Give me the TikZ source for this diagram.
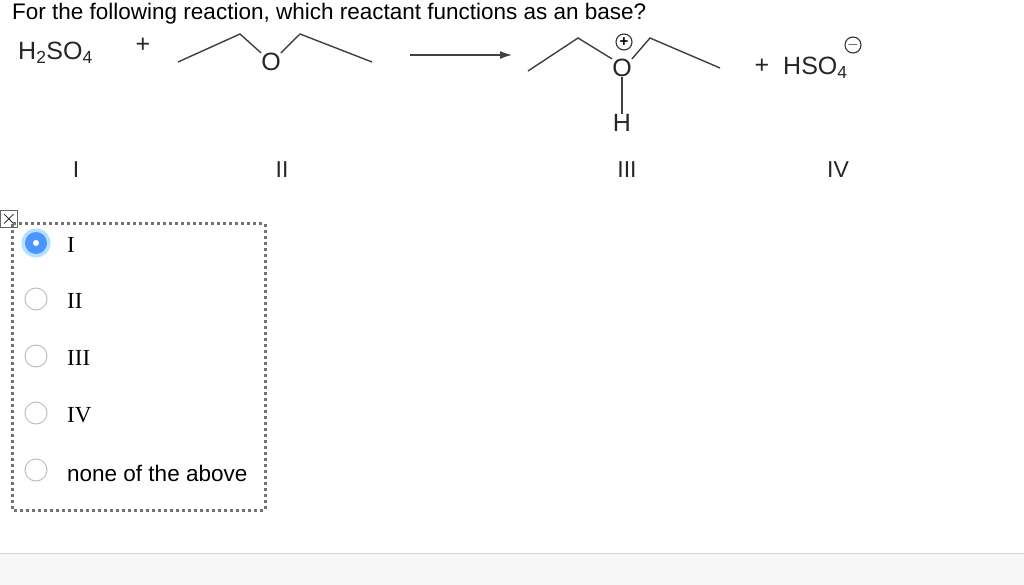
\documentclass[tikz,border=0pt]{standalone}
\usepackage{fontspec}
\usetikzlibrary{arrows.meta}
\setmainfont{Liberation Serif}
\newfontfamily\ar{Liberation Sans}
\begin{document}
\begin{tikzpicture}[x=1pt,y=-1pt,
  bond/.style={draw=black!75,line width=1.4pt},
  chem/.style={font=\ar\fontsize{25}{26}\selectfont,inner sep=0pt,text=black!85},
  lab/.style={font=\ar\fontsize{23}{24}\selectfont,inner sep=0pt,text=black!85},
  opt/.style={font=\fontsize{23}{24}\selectfont,inner sep=0pt,anchor=west},
  radio/.style={circle,draw=black!25,line width=1pt,fill=white,minimum size=22pt,inner sep=0pt},
  chg/.style={circle,draw=black!80,line width=1.1pt,minimum size=16pt,inner sep=0pt,font=\ar\bfseries\fontsize{15}{15}\selectfont}]
\useasboundingbox (0,0) rectangle (1024,585);
\fill[white] (0,0) rectangle (1024,585);
\fill[blue!2!gray!6] (0,553) rectangle (1024,585);
\draw[black!15,line width=1pt] (0,553) -- (1024,553);
\node[anchor=west,font=\ar\fontsize{22.5}{23}\selectfont,inner sep=0pt] (title) at (12,14) {For the following reaction, which reactant functions as an base?};
\node[chem,anchor=west] (h2so4) at (18,53) {H\textsubscript{2}SO\textsubscript{4}};
\node[chem] (p1) at (143,45) {+};
\node[chem] (o1) at (271,62) {O};
\coordinate (a1) at (178,62); \coordinate (a2) at (240,34);
\coordinate (a3) at (300,34); \coordinate (a4) at (372,62);
\draw[bond] (a1) -- (a2) -- (o1.north west);
\draw[bond] (o1.north east) -- (a3) -- (a4);
\coordinate (r1) at (410,55); \coordinate (r2) at (512,55);
\draw[bond,-{Latex[length=12pt,width=8pt]}] (r1) -- (r2);
\node[chem] (o2) at (622,68) {O};
\node[chg] (plus) at (624,42) {+};
\node[chem] (h) at (622,123) {H};
\coordinate (b1) at (528,71); \coordinate (b2) at (578,38);
\coordinate (b3) at (650,38); \coordinate (b4) at (720,68);
\draw[bond] (b1) -- (b2) -- (o2.north west);
\draw[bond] (o2.north east) -- (b3) -- (b4);
\draw[bond] (o2.south) -- (h.north);
\node[chem] (p2) at (762,66) {+};
\node[chem,anchor=west] (hso4) at (783,68) {HSO\textsubscript{4}};
\node[chg] (minus) at (853,45) {$-$};
\node[lab] (l1) at (76,170) {I};
\node[lab] (l2) at (282,170) {II};
\node[lab] (l3) at (627,170) {III};
\node[lab] (l4) at (838,170) {IV};
\node[draw=black!60,line width=1.2pt,minimum size=17pt,inner sep=0pt,font=\ar\bfseries\fontsize{20}{20}\selectfont] (x) at (9,219) {$\times$};
\draw[black!55,line width=3pt,dash pattern=on 3pt off 3pt] (12,224) rectangle (265,510);
\node[circle,fill=blue!40!cyan!30,minimum size=29pt,inner sep=0pt] (halo) at (36,243) {};
\node[circle,fill=blue!60!cyan!70,minimum size=22pt,inner sep=0pt] (r1b) at (36,243) {};
\node[circle,fill=white,minimum size=6pt,inner sep=0pt] (dot) at (36,243) {};
\node[opt] (t1) at (67,245) {I};
\node[radio] (r2b) at (36,299) {}; \node[opt] (t2) at (67,301) {II};
\node[radio] (r3b) at (36,356) {}; \node[opt] (t3) at (67,358) {III};
\node[radio] (r4b) at (36,413) {}; \node[opt] (t4) at (67,415) {IV};
\node[radio] (r5b) at (36,470) {}; \node[opt,font=\ar\fontsize{22.5}{23}\selectfont] (t5) at (67,473) {none of the above};
\end{tikzpicture}
\end{document}
